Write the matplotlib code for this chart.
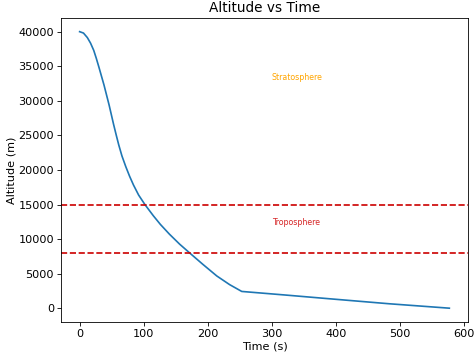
import matplotlib
matplotlib.use("Agg")
import matplotlib.pyplot as plt

# Data
time_s = [0, 6, 12, 17, 22, 26, 30, 38, 46, 53, 57, 61, 66, 72, 78, 84, 92,
          102, 115, 126, 140, 156, 172, 192, 214, 234, 253, 320, 390, 483, 577]
altitude_m = [40000, 39800, 39150, 38350, 37300, 36150, 34900, 32300, 29400,
              26600, 25100, 23650, 22050, 20500, 19100, 17850, 16400, 15000,
              13400, 12150, 10750, 9300, 8000, 6400, 4700, 3450, 2460, 1950,
              1400, 680, 40]

layer_bounds = [15000, 8000]
layer_labels = ["Stratosphere", "Troposphere"]
layer_label_pos = [(300, 33000), (300, 12000)]
layer_label_colors = ["orange", "#d62728"]

fig = plt.figure(figsize=(4.74, 3.57), dpi=100)
ax = fig.add_axes([0.129, 0.098, 0.858, 0.852])

ax.plot(time_s, altitude_m, color="#1f77b4", linewidth=1.2)
for b in layer_bounds:
    ax.axhline(b, color="#cc0000", linestyle="--", linewidth=1.2)
for lbl, (x, y), c in zip(layer_labels, layer_label_pos, layer_label_colors):
    ax.text(x, y, lbl, color=c, fontsize=5.7)

ax.set_title("Altitude vs Time", fontsize=9.8, pad=4)
ax.set_xlabel("Time (s)", fontsize=8.1, labelpad=1.5)
ax.set_ylabel("Altitude (m)", fontsize=8.1, labelpad=1.5)
ax.tick_params(labelsize=8.1, length=2.6, width=0.6, pad=2.5)
for s in ax.spines.values():
    s.set_linewidth(0.6)

fig.savefig("out.png", dpi=100)
